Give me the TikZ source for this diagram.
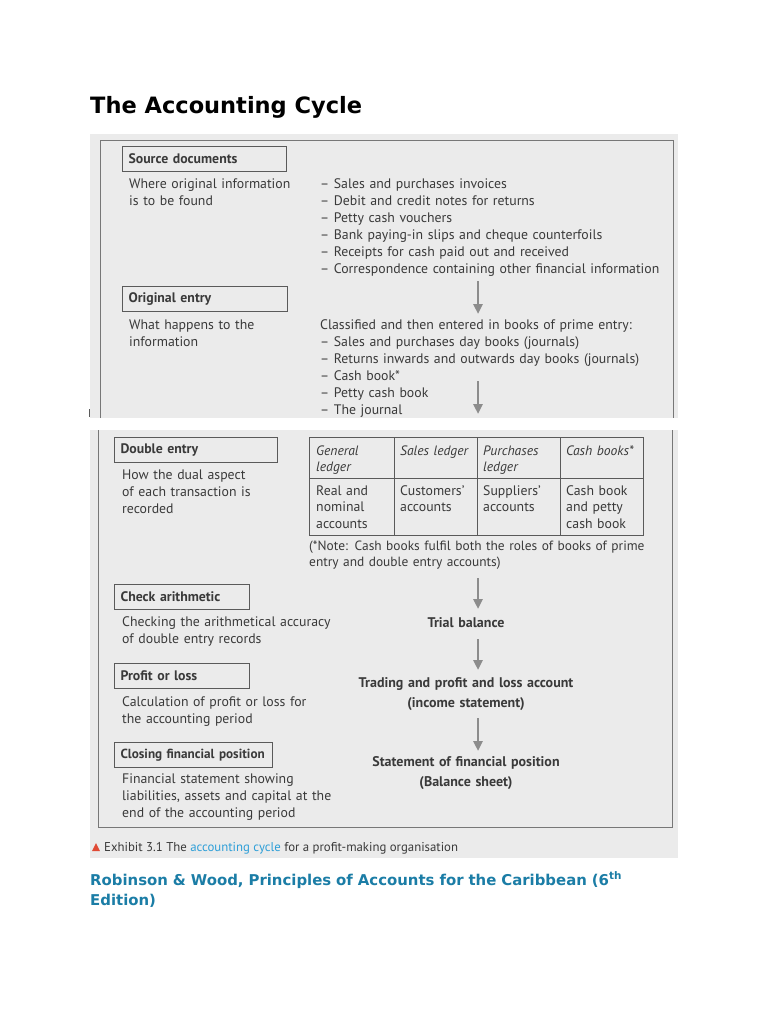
\documentclass[tikz,border=0pt]{standalone}
\usepackage{fontspec}
\setmainfont{DejaVu Sans}
\newfontfamily\scanfont[Ligatures=TeX]{PT Sans}
\newfontfamily\headfont{DejaVu Sans}
\usetikzlibrary{arrows.meta}
\definecolor{panelgrey}{HTML}{EBEBEB}
\definecolor{scantext}{HTML}{3A3A3A}
\definecolor{framegrey}{HTML}{777777}
\definecolor{boxgrey}{HTML}{5A5A5A}
\definecolor{arrowgrey}{HTML}{8C8C8C}
\definecolor{headblue}{HTML}{1B7DA6}
\definecolor{linkblue}{HTML}{2E9FD8}
\definecolor{tricolor}{HTML}{E04A35}
\begin{document}
\begin{tikzpicture}[x=1pt,y=-1pt,
  body/.style={font=\scanfont\fontsize{13.8}{17}\selectfont, text=scantext, inner sep=0pt, anchor=base west, align=left, text width=#1},
  body/.default=360pt,
  cell/.style={font=\scanfont\fontsize{13.8}{16.5}\selectfont, text=scantext, inner sep=0pt, anchor=base west, align=left, text width=80pt},
  hcell/.style={cell, font=\scanfont\itshape\fontsize{13.6}{16.5}\selectfont},
  strong/.style={font=\scanfont\bfseries\fontsize{14}{20}\selectfont, text=scantext, inner sep=0pt, anchor=base, align=center, text width=260pt},
  lblbox/.style={draw=boxgrey, line width=1.1pt, anchor=north west, minimum width=#1, text width=#1-12pt, minimum height=25pt, inner xsep=6pt, inner ysep=0pt, align=left, font=\scanfont\bfseries\fontsize{13.8}{15}\selectfont, text=scantext},
  frameline/.style={draw=framegrey, line width=1pt},
  bigarrow/.style={draw=arrowgrey, line width=2.6pt, -{Triangle[length=10pt,width=9pt]}},
  tableline/.style={draw=boxgrey, line width=1pt}
]
\useasboundingbox[fill=white] (0,0) rectangle (768,1024);

% Title
\node[anchor=base west, inner sep=0pt, font=\headfont\bfseries\fontsize{22.5}{26}\selectfont] (title) at (90,114) {The Accounting Cycle};

% ---------- Panel 1 ----------
\fill[panelgrey] (90,134) rectangle (678,418);
\draw[frameline] (100,418) -- (100,141) -- (673,141) -- (673,418);
\draw[boxgrey, line width=1pt] (89,409) -- (89,417);

\node[lblbox=164pt] (src) at (122,146) {Source documents};
\node[body=180pt] (srcdesc) at (129,189) {Where original information\\is to be found};
\node[body] (srclist) at (320,189) {-- Sales and purchases invoices\\-- Debit and credit notes for returns\\-- Petty cash vouchers\\-- Bank paying-in slips and cheque counterfoils\\-- Receipts for cash paid out and received\\-- Correspondence containing other financial information};

\node[lblbox=165pt] (orig) at (122,286) {Original entry};
\node[body=180pt] (origdesc) at (129,329) {What happens to the\\information};
\node[body] (origlist) at (320,329) {Classified and then entered in books of prime entry:\\-- Sales and purchases day books (journals)\\-- Returns inwards and outwards day books (journals)\\-- Cash book*\\-- Petty cash book\\-- The journal};

\coordinate (a1s) at (478,281);
\coordinate (a1e) at (478,314);
\draw[bigarrow] (a1s) -- (a1e);
\coordinate (a2s) at (478,381);
\coordinate (a2e) at (478,414);
\draw[bigarrow] (a2s) -- (a2e);

% ---------- Panel 2 ----------
\fill[panelgrey] (90,430) rectangle (678,858);
\draw[frameline] (98,430) -- (98,827) -- (672,827) -- (672,430);

\node[lblbox=163pt] (de) at (114,437) {Double entry};
\node[body=170pt] (dedesc) at (122,479) {How the dual aspect\\of each transaction is\\recorded};

% table
\draw[tableline] (309,437) rectangle (643,535);
\draw[tableline] (309,478) -- (643,478);
\draw[tableline] (394,437) -- (394,535);
\draw[tableline] (477,437) -- (477,535);
\draw[tableline] (560,437) -- (560,535);
\node[hcell] (h1) at (316,455) {General\\ledger};
\node[hcell] (h2) at (400,455) {Sales ledger};
\node[hcell] (h3) at (483,455) {Purchases\\ledger};
\node[hcell] (h4) at (566,455) {Cash books*};
\node[cell] (b1) at (316,495) {Real and\\nominal\\accounts};
\node[cell] (b2) at (400,495) {Customers'\\accounts};
\node[cell] (b3) at (483,495) {Suppliers'\\accounts};
\node[cell] (b4) at (566,495) {Cash book\\and petty\\cash book};
\node[body, font=\scanfont\fontsize{13.4}{16.5}\selectfont] (note) at (309,550) {(*Note: Cash books fulfil both the roles of books of prime\\entry and double entry accounts)};

\node[lblbox=135pt] (ca) at (114,584) {Check arithmetic};
\node[body=230pt] (cadesc) at (122,626) {Checking the arithmetical accuracy\\of double entry records};
\node[strong] (tb) at (466,627) {Trial balance};

\node[lblbox=135pt] (pl) at (114,663) {Profit or loss};
\node[body=230pt] (pldesc) at (122,706) {Calculation of profit or loss for\\the accounting period};
\node[strong] (tpl) at (466,687) {Trading and profit and loss account\\(income statement)};

\node[lblbox=158pt, font=\scanfont\bfseries\fontsize{13.2}{15}\selectfont] (cfp) at (114,742) {\mbox{Closing financial position}};
\node[body=230pt] (cfpdesc) at (122,783) {Financial statement showing\\liabilities, assets and capital at the\\end of the accounting period};
\node[strong] (sfp) at (466,766) {Statement of financial position\\(Balance sheet)};

\coordinate (a3s) at (478,578);
\coordinate (a3e) at (478,609);
\draw[bigarrow] (a3s) -- (a3e);
\coordinate (a4s) at (478,639);
\coordinate (a4e) at (478,670);
\draw[bigarrow] (a4s) -- (a4e);
\coordinate (a5s) at (478,718);
\coordinate (a5e) at (478,751);
\draw[bigarrow] (a5s) -- (a5e);

% caption
\fill[tricolor] (92,851) -- (100,851) -- (96,843) -- cycle;
\node[anchor=base west, inner sep=0pt, font=\scanfont\fontsize{12.8}{14}\selectfont, text=scantext] (cap) at (104,851) {Exhibit 3.1 The \textcolor{linkblue}{accounting cycle} for a profit-making organisation};

% source heading
\node[anchor=base west, inner sep=0pt, align=left, text width=620pt, text=headblue, font=\headfont\bfseries\fontsize{14.9}{20}\selectfont] (ref) at (90,885) {Robinson \& Wood, Principles of Accounts for the Caribbean (6\textsuperscript{th}\\Edition)};
\end{tikzpicture}
\end{document}
